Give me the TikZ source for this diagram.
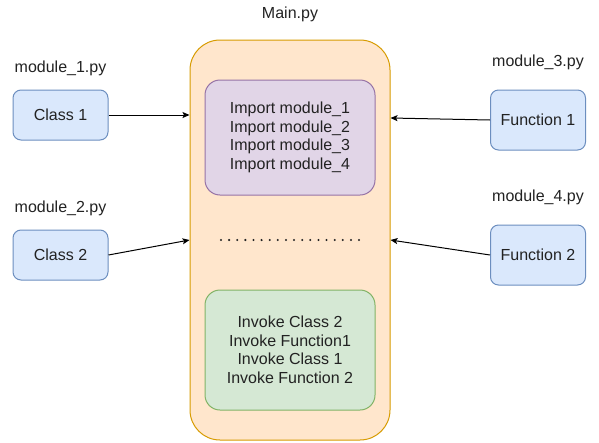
\documentclass[tikz,border=0pt]{standalone}
\usepackage{fontspec}
\setmainfont{Liberation Sans}
\usepackage{xcolor}
\definecolor{mainfill}{RGB}{255, 230, 204}
\definecolor{maindraw}{RGB}{215, 155, 0}
\definecolor{impfill}{RGB}{225, 213, 231}
\definecolor{impdraw}{RGB}{150, 115, 166}
\definecolor{invfill}{RGB}{213, 232, 212}
\definecolor{invdraw}{RGB}{130, 179, 102}
\definecolor{modfill}{RGB}{218, 232, 252}
\definecolor{moddraw}{RGB}{108, 142, 191}
\definecolor{txt}{RGB}{34, 34, 34}
\usetikzlibrary{arrows.meta, positioning}

\begin{document}
\begin{tikzpicture}[
        x=1pt, y=-1pt,
        font=\fontsize{16}{18.5}\selectfont,
        text=txt,
        node distance=13pt,
        mainbox/.style={
            rectangle,
            draw=maindraw,
            fill=mainfill,
            line width=1pt,
            rounded corners=30pt,
            minimum width=200pt,
            minimum height=400pt
        },
        innerbox/.style={
            rectangle,
            line width=1pt,
            rounded corners=15pt,
            align=center,
            minimum width=170pt
        },
        modbox/.style={
            rectangle,
            draw=moddraw,
            fill=modfill,
            line width=1pt,
            rounded corners=8pt,
            minimum width=95pt
        },
        caption/.style={inner sep=0pt},
        arrow/.style={
            -{Stealth[length=7pt, width=6pt, inset=1.5pt]},
            line width=1pt,
            color=black
        }
    ]
        \useasboundingbox (0,0) rectangle (599,442);

        % Nodes
        \node[mainbox] (main) at (290,240) {};
        \node[caption, above=17pt of main] (mainname) {Main.py};
        \node[innerbox, draw=impdraw, fill=impfill, minimum height=115pt] (imports) at (290,137.5)
            {Import module\_1\\Import module\_2\\Import module\_3\\Import module\_4};
        \coordinate (dots) at (290,240);
        \node[innerbox, draw=invdraw, fill=invfill, minimum height=120pt] (invokes) at (290,350)
            {Invoke Class 2\\Invoke Function1\\Invoke Class 1\\Invoke Function 2};

        \node[modbox, minimum height=50pt] (cls1) at (60.5,115) {Class 1};
        \node[caption, above=of cls1] (mod1) {module\_1.py};
        \node[modbox, minimum height=50pt] (cls2) at (60.5,255) {Class 2};
        \node[caption, above=of cls2] (mod2) {module\_2.py};
        \node[modbox, minimum height=60pt] (fn1) at (538,120) {Function 1};
        \node[caption, above=19pt of fn1] (mod3) {module\_3.py};
        \node[modbox, minimum height=60pt] (fn2) at (538,255) {Function 2};
        \node[caption, above=19pt of fn2] (mod4) {module\_4.py};

        % Dots
        \foreach \i in {0,...,17}
            \fill[txt, shift={(dots)}] (-69+\i*8.12,0) circle (1.15pt);

        % Arrows
        \draw[arrow] (cls1.east) -- (cls1 -| main.west);
        \draw[arrow] (cls2.east) -- (main.west |- dots);
        \draw[arrow] (fn1.west) -- ([yshift=2pt]fn1 -| main.east);
        \draw[arrow] (fn2.west) -- (main.east |- dots);
    \end{tikzpicture}
\end{document}
